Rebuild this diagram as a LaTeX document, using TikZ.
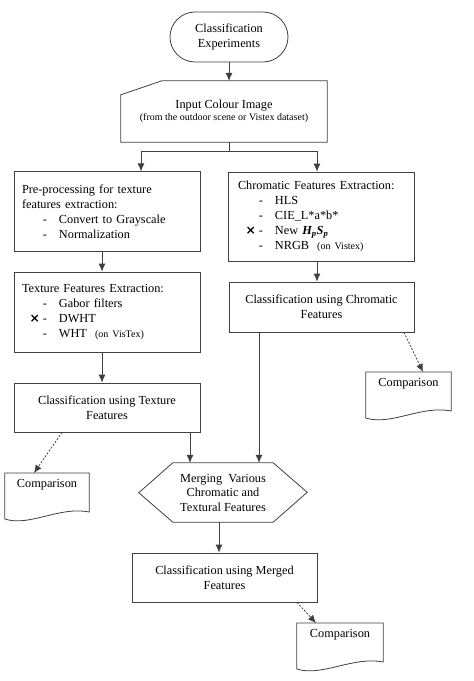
\documentclass[tikz,border=0pt]{standalone}
\usepackage{fontspec}
\setmainfont{Liberation Serif}
\newfontfamily\symfont{DejaVu Sans}
\usetikzlibrary{arrows.meta}

\tikzset{>={Latex[length=8pt,width=7pt]}}
\tikzset{
  line/.style={draw=black!75,line width=0.8pt},
  plain/.style={align=center,font=\fontsize{12.3}{15}\selectfont,inner sep=0pt},
  box/.style={plain,line,minimum width=186pt},
  listbox/.style={box,align=left,text width=170pt,inner xsep=8pt},
  start/.style={plain,line,rounded corners=25pt,minimum width=118pt,minimum height=50pt},
  doc/.style={plain,anchor=north,inner ysep=6pt},
}
\newcommand{\sm}[1]{{\fontsize{10}{11}\selectfont #1}}
\newcommand{\xm}{{\symfont\bfseries ×}}
\newcommand{\itm}[2][]{\makebox[25pt][r]{#1\hspace{3pt}-}\hspace{12pt}#2}
% document outline with wavy bottom
\newcommand{\docshape}[1]{\draw[line] (#1.north west) -- (#1.north east) -- ++(0,39)
  .. controls +(-30,-6) and +(25,8) .. ([yshift=-46pt]#1.north west) -- cycle;}

\begin{document}
\begin{tikzpicture}[x=1pt,y=-1pt]
  \fill[white] (0,0) rectangle (474,681); % page
  \node[start] (start) at (229,37) {Classification\\Experiments};
  \node[plain,minimum width=206pt,minimum height=61pt] (input) at (224,111.5)
    {Input Colour Image\\[-3pt]\sm{(from the outdoor scene or Vistex dataset)}};
  \draw[line] (input.south west) -- ([yshift=-14pt]input.north west)
    -- ([xshift=41pt]input.north west) -- (input.north east) -- (input.south east) -- cycle;
  % texture side
  \node[listbox,minimum height=79.5pt] (pre) at (107,211.5)
    {Pre-processing for texture\\features extraction:\\\itm{Convert to Grayscale}\\\itm{Normalization}};
  \node[listbox,minimum height=80pt] (tex) at (107,312)
    {Texture Features Extraction:\\\itm{Gabor filters}\\\itm[\xm]{DWHT}\\\itm{WHT\hspace{8pt}\sm{(on VisTex)}}};
  \node[box,minimum height=49pt] (ctex) at (107,407.5) {Classification using Texture\\Features};
  \node[doc,minimum width=84pt] (cmpL) at (47,473) {Comparison};
  \docshape{cmpL}
  % chromatic side
  \node[listbox,text width=167pt,inner xsep=9pt,minimum height=89pt] (chr) at (321.5,216.5)
    {Chromatic Features Extraction:\\\itm{HLS}\\\itm{CIE\_L*a*b*}\\\itm[\xm]{New \textbf{\textit{H\textsubscript{p}S\textsubscript{p}}}}\\\itm{NRGB\hspace{8pt}\sm{(on Vistex)}}};
  \node[box,minimum width=185pt,minimum height=50pt] (cchr) at (321.5,307) {Classification using Chromatic\\Features};
  \node[doc,minimum width=85pt] (cmpR) at (408.5,372) {Comparison};
  \docshape{cmpR}
  % merging
  \node[plain,minimum width=100pt,minimum height=59pt,font=\fontsize{12.3}{14.5}\selectfont] (merge) at (223,492.5)
    {Merging\hspace{6pt}Various\\Chromatic and\\Textural Features};
  \draw[line] (merge.north west) -- (merge.north east) -- ++(34,29.5) -- (merge.south east)
    -- (merge.south west) -- ++(-34,-29.5) -- cycle;
  \node[box,minimum width=185pt,minimum height=49pt] (cmerge) at (224.5,577.5) {Classification using Merged\\Features};
  \node[doc,minimum width=86pt] (cmpB) at (340,623) {Comparison};
  \docshape{cmpB}
  % connectors
  \coordinate (split) at (229,151);
  \draw[line,->] (start.south) -- ([xshift=5pt]input.north);
  \draw[line] ([xshift=5pt]input.south) -- (split);
  \draw[line,->] (split) -| ([xshift=34pt]pre.north);
  \draw[line,->] (split) -| ([xshift=-4.5pt]chr.north);
  \draw[line,->] ([xshift=-5pt]pre.south) -- ([xshift=-5pt]tex.north);
  \draw[line,->] ([xshift=-5pt]tex.south) -- ([xshift=-5pt]ctex.north);
  \draw[line,->] ([xshift=-4.5pt]chr.south) -- ([xshift=-4.5pt]cchr.north);
  \coordinate (t1) at ([xshift=83pt]ctex.south);
  \coordinate (c1) at ([xshift=-62.5pt]cchr.south);
  \draw[line,->] (t1) -- (t1 |- merge.north);
  \draw[line,->] (c1) -- (c1 |- merge.north);
  \draw[line,->] ([xshift=-4pt]merge.south) -- ([xshift=-5.5pt]cmerge.north);
  \draw[line,dashed,dash pattern=on 2pt off 1.5pt,->] ([xshift=-45pt]ctex.south) -- ([xshift=-13pt]cmpL.north);
  \draw[line,dashed,dash pattern=on 2pt off 1.5pt,->] ([xshift=82.5pt]cchr.south) -- ([xshift=14.5pt]cmpR.north);
  \draw[line,dashed,dash pattern=on 2pt off 1.5pt,->] ([xshift=72.5pt]cmerge.south) -- ([xshift=-24pt]cmpB.north);
\end{tikzpicture}
\end{document}
